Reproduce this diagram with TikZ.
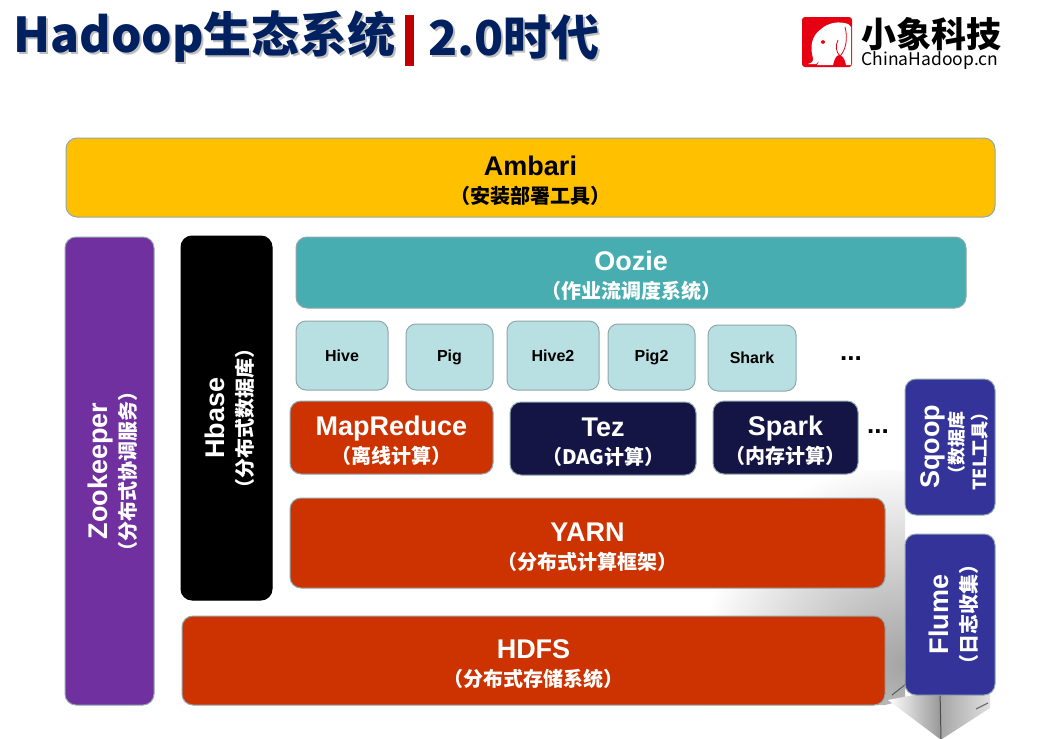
\documentclass[tikz,border=0pt]{standalone}
\usepackage{fontspec}
\setmainfont{Liberation Sans}
\newfontfamily\cjk{Noto Sans CJK SC}
\usetikzlibrary{shadings}
\definecolor{rust}{HTML}{CC3300}
\definecolor{navybox}{HTML}{151545}
\definecolor{teal2}{HTML}{48ADB0}
\definecolor{pale}{HTML}{B8DFE2}
\definecolor{edge}{HTML}{8FA8AC}
\definecolor{titleblue}{HTML}{002060}
\definecolor{indigo2}{HTML}{333399}
\definecolor{purple2}{HTML}{7030A0}
\definecolor{amber}{HTML}{FFC000}
\definecolor{logored}{HTML}{E60012}
\definecolor{barred}{HTML}{C00000}
\tikzset{
  x=1pt,y=-1pt,
  blockbox/.style={draw=edge,line width=1pt,rounded corners=11pt,inner sep=0pt,align=center,text=white,font=\fontsize{27}{28}\selectfont,execute at begin node={\lineskiplimit=-20pt\relax}},
  palebox/.style={blockbox,fill=pale,text=black,rounded corners=10pt,font=\fontsize{16}{18}\selectfont\bfseries},
  titletxt/.style={anchor=west,inner sep=0pt,text=titleblue,font=\cjk\fontsize{48}{50}\selectfont\bfseries},
  titleshade/.style={titletxt,text=black!25},
  dotstxt/.style={inner sep=0pt,font=\fontsize{26}{28}\selectfont\bfseries},
}
% name, x1, y1, x2, y2, style, content
\newcommand{\blk}[7]{\node[blockbox,#6,minimum width=#4pt-#2pt,minimum height=#5pt-#3pt] (#1) at ({(#2+#4)/2},{(#3+#5)/2}) {#7};}
\newcommand{\vblk}[7]{\node[blockbox,#6,rotate=90,minimum width=#5pt-#3pt,minimum height=#4pt-#2pt] (#1) at ({(#2+#4)/2},{(#3+#5)/2}) {#7};}
\newcommand{\bgt}[1]{\rule{0pt}{27pt}{\fontsize{27}{28}\selectfont\bfseries #1}}
\newcommand{\sml}[1]{{\cjk\fontsize{20}{28}\selectfont\bfseries #1}}
\newcommand{\tny}[1]{{\cjk\fontsize{18}{24}\selectfont\bfseries #1}}
\begin{document}
\begin{tikzpicture}
\useasboundingbox (0,0) rectangle (1039,739);
\fill[white] (0,0) rectangle (1039,739);
% backdrop shading
\begin{scope}
\clip (440,470) -- (905,470) -- (905,700) -- (885,705) -- (440,705) -- cycle;
\shade[inner color=black!36,outer color=white] (905,665) circle (205);
\end{scope}
% stand under Flume
\shade[left color=black!35,right color=black!12] (940,690) -- (990,690) -- (990,708) -- (942,739) -- (940,739) -- cycle;
\shade[left color=white,right color=black!40] (888,700) -- (940,690) -- (940,739) -- cycle;
\draw[black!70,line width=1pt] (940,690) -- (941,739);
\draw[black!65,line width=1pt] (892,695) -- (906,684);
\draw[black!55,line width=1.2pt] (976,709) -- (988,703);
% title
\node[titleshade] (titleshadeA) at (15,39) {Hadoop生态系统};
\node[titletxt] (titleA) at (13,37) {Hadoop生态系统};
\node[fill=barred,minimum width=9pt,minimum height=51pt,inner sep=0pt] (titlebar) at (409.5,40.5) {};
\node[titleshade] (titleshadeB) at (430,39) {2.0时代};
\node[titletxt] (titleB) at (428,37) {2.0时代};
% logo
\fill[logored,rounded corners=3pt] (802,17) rectangle (852,67);
\fill[white] (808,64) .. controls (813,63) and (814,60) .. (812.5,56) .. controls (810,46) and (812,36) .. (820,30) .. controls (828,22) and (840,21) .. (848,24) -- (851,27) -- (851,65) -- (846,65) .. controls (845,58) and (842,55) .. (839,55) .. controls (836,55) and (834,60) .. (833,65) -- (817,65) -- (820,60) -- (816,64) -- cycle;
\fill[logored] (823,42) ellipse (2pt and 1.8pt);
\draw[logored,line width=.8pt] (845,27) .. controls (848,38) and (846,50) .. (840,56) .. controls (836,52) and (835,46) .. (838,40);
\node[inner sep=0pt,text height=26pt,text depth=2pt,font=\cjk\fontsize{35}{37}\selectfont\bfseries] (logocn) at (931,35) {小象科技};
\node[inner sep=0pt,text height=13pt,text depth=3pt,font=\cjk\fontsize{17.5}{20}\selectfont] (logoen) at (930,60) {ChinaHadoop.cn};
% blocks
\blk{ambari}{66}{138}{995}{217}{fill=amber,text=black}{\bgt{Ambari}\\\sml{（安装部署工具）}}
\vblk{zookeeper}{65}{237}{154}{705}{fill=purple2}{\bgt{Zookeeper}\\\sml{（分布式协调服务）}}
\vblk{hbase}{181}{236}{272}{600}{fill=black,draw=black}{\bgt{Hbase}\\\sml{（分布式数据库）}}
\blk{oozie}{296}{237}{966}{308}{fill=teal2}{\bgt{Oozie}\\\sml{（作业流调度系统）}}
\node[palebox,minimum width=92pt,minimum height=69pt] (hive) at (342,355.5) {Hive};
\node[palebox,minimum width=87pt,minimum height=66pt] (pig) at (449.5,357) {\raisebox{-2pt}{Pig}};
\node[palebox,minimum width=92pt,minimum height=69pt] (hiveB) at (553,355.5) {Hive2};
\node[palebox,minimum width=87pt,minimum height=66pt] (pigB) at (651.5,357) {\raisebox{-2pt}{Pig2}};
\node[palebox,minimum width=88pt,minimum height=66pt] (shark) at (752,358) {Shark};
\node[dotstxt] (dotsA) at (851,359) {...};
\blk{mr}{290}{401}{493}{474}{fill=rust}{\bgt{MapReduce}\\\sml{（离线计算）}}
\blk{tez}{510}{402}{696}{475}{fill=navybox}{\bgt{Tez}\\\sml{（DAG计算）}}
\blk{spark}{713}{401}{858}{474}{fill=navybox}{\bgt{Spark}\\\sml{（内存计算）}}
\node[dotstxt] (dotsB) at (878,432) {...};
\blk{yarn}{290}{498}{885}{588}{fill=rust}{\bgt{YARN}\\\sml{（分布式计算框架）}}
\blk{hdfs}{182}{616}{885}{705}{fill=rust}{\bgt{HDFS}\\\sml{（分布式存储系统）}}
\vblk{sqoop}{905}{379}{995}{515}{fill=indigo2}{\bgt{Sqoop}\\[-4pt]\tny{（数据库}\\[-5pt]\tny{TEL工具）}}
\vblk{flume}{905}{534}{995}{695}{fill=indigo2}{\bgt{Flume}\\\sml{（日志收集）}}
\end{tikzpicture}
\end{document}
